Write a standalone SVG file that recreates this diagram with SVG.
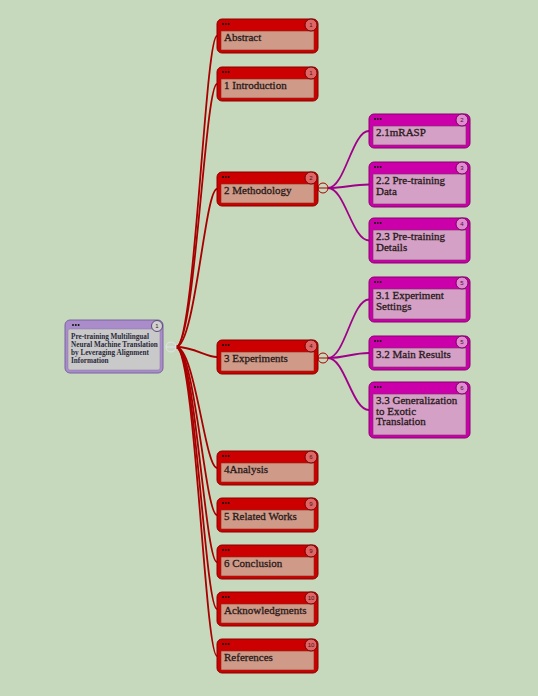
<svg xmlns="http://www.w3.org/2000/svg" width="538" height="696" viewBox="0 0 538 696">
<style>
.bg{fill:#c6d9bd}
.ro{fill:#cc0000;stroke:#8a0000;stroke-width:1}
.ri{fill:#d09a88;stroke:#8a2a1a;stroke-width:0.6}
.rb{fill:#e06666;stroke:#6a0000;stroke-width:0.9}
.po{fill:#cc00aa;stroke:#8a0070;stroke-width:1}
.pi{fill:#d4a0c6;stroke:#7a2a66;stroke-width:0.6}
.pb{fill:#e28ad2;stroke:#6a0058;stroke-width:0.9}
.qo{fill:#a98cc9;stroke:#7a64a0;stroke-width:1}
.qi{fill:#c9c9c9;stroke:#8a7aa0;stroke-width:0.5}
.qb{fill:#d0d0d0;stroke:#5a4a78;stroke-width:1}
.t{font-family:"Liberation Serif","DejaVu Serif",serif;font-size:11px;fill:#2a1a1a;stroke:#2a1a1a;stroke-width:0.3}
.ts{font-family:"Liberation Serif","DejaVu Serif",serif;font-size:7.2px;font-weight:bold;fill:#2a2a3a}
.n{font-family:"Liberation Sans",sans-serif;font-size:6px;fill:#3a1a1a;text-anchor:middle}
.cr{fill:none;stroke:#a80000;stroke-width:1.8}
.cp{fill:none;stroke:#a0008a;stroke-width:1.8}
.col{fill:none;stroke-width:1}
</style>
<defs>
<g id="dots"><circle cx="0" cy="0" r="1" fill="#111"/><circle cx="2.8" cy="0" r="1" fill="#111"/><circle cx="5.6" cy="0" r="1" fill="#111"/></g>
</defs>
<rect class="bg" x="0" y="0" width="538" height="696"/>
<g id="connectors">
<path class="cr" d="M176,347 C195,347 205,36 217,36"/>
<path class="cr" d="M176,347 C195,347 205,84 217,84"/>
<path class="cr" d="M176,347 C195,347 205,189 217,189"/>
<path class="cr" d="M176,347 C195,347 205,357 217,357"/>
<path class="cr" d="M176,347 C195,347 205,468 217,468"/>
<path class="cr" d="M176,347 C195,347 205,515 217,515"/>
<path class="cr" d="M176,347 C195,347 205,562 217,562"/>
<path class="cr" d="M176,347 C195,347 205,609 217,609"/>
<path class="cr" d="M176,347 C195,347 205,656 217,656"/>
<path class="cp" d="M328,188 C345,188 352,131 369,131"/>
<path class="cp" d="M328,188 C345,188 352,184.5 369,184.5"/>
<path class="cp" d="M328,188 C345,188 352,240.5 369,240.5"/>
<path class="cp" d="M328,358 C345,358 352,299.5 369,299.5"/>
<path class="cp" d="M328,358 C345,358 352,353 369,353"/>
<path class="cp" d="M328,358 C345,358 352,410 369,410"/>
</g>
<g id="root">
<rect class="qo" x="65" y="320" width="98" height="53" rx="5"/>
<rect class="qi" x="68" y="329" width="92" height="41" rx="2"/>
<use href="#dots" x="73" y="325"/>
<circle class="qb" cx="157" cy="326" r="5.5"/><text class="n" x="157" y="328.2">1</text>
<text class="ts" x="71" y="339">Pre-training Multilingual</text>
<text class="ts" x="71" y="347">Neural Machine Translation</text>
<text class="ts" x="71" y="355">by Leveraging Alignment</text>
<text class="ts" x="71" y="363">Information</text>
<circle class="col" cx="171" cy="347" r="5" stroke="#e6e0ee"/><line x1="166" y1="347" x2="176" y2="347" stroke="#e6e0ee" stroke-width="1"/>
</g>
<g id="abstract">
<rect class="ro" x="217" y="19" width="101" height="34" rx="5"/>
<rect class="ri" x="221" y="31" width="93" height="19"/>
<use href="#dots" x="223" y="24"/>
<circle class="rb" cx="311" cy="25" r="6"/><text class="n" x="311" y="27.2">1</text>
<text class="t" x="224" y="41">Abstract</text>
</g>
<g id="introduction">
<rect class="ro" x="217" y="67" width="101" height="34" rx="5"/>
<rect class="ri" x="221" y="79" width="93" height="19"/>
<use href="#dots" x="223" y="72"/>
<circle class="rb" cx="311" cy="73" r="6"/><text class="n" x="311" y="75.2">1</text>
<text class="t" x="224" y="89">1 Introduction</text>
</g>
<g id="methodology">
<rect class="ro" x="217" y="172" width="101" height="34" rx="5"/>
<rect class="ri" x="221" y="184" width="93" height="19"/>
<use href="#dots" x="223" y="177"/>
<circle class="rb" cx="311" cy="178" r="6"/><text class="n" x="311" y="180.2">2</text>
<text class="t" x="224" y="194">2 Methodology</text>
<circle class="col" cx="323" cy="188" r="5" stroke="#a80000"/><line x1="318" y1="188" x2="328" y2="188" stroke="#a80000" stroke-width="1"/>
</g>
<g id="experiments">
<rect class="ro" x="217" y="340" width="101" height="34" rx="5"/>
<rect class="ri" x="221" y="352" width="93" height="19"/>
<use href="#dots" x="223" y="345"/>
<circle class="rb" cx="311" cy="346" r="6"/><text class="n" x="311" y="348.2">4</text>
<text class="t" x="224" y="362">3 Experiments</text>
<circle class="col" cx="323" cy="358" r="5" stroke="#a80000"/><line x1="318" y1="358" x2="328" y2="358" stroke="#a80000" stroke-width="1"/>
</g>
<g id="analysis">
<rect class="ro" x="217" y="451" width="101" height="34" rx="5"/>
<rect class="ri" x="221" y="463" width="93" height="19"/>
<use href="#dots" x="223" y="456"/>
<circle class="rb" cx="311" cy="457" r="6"/><text class="n" x="311" y="459.2">6</text>
<text class="t" x="224" y="473">4Analysis</text>
</g>
<g id="related-works">
<rect class="ro" x="217" y="498" width="101" height="34" rx="5"/>
<rect class="ri" x="221" y="510" width="93" height="19"/>
<use href="#dots" x="223" y="503"/>
<circle class="rb" cx="311" cy="504" r="6"/><text class="n" x="311" y="506.2">9</text>
<text class="t" x="224" y="520">5 Related Works</text>
</g>
<g id="conclusion">
<rect class="ro" x="217" y="545" width="101" height="34" rx="5"/>
<rect class="ri" x="221" y="557" width="93" height="19"/>
<use href="#dots" x="223" y="550"/>
<circle class="rb" cx="311" cy="551" r="6"/><text class="n" x="311" y="553.2">9</text>
<text class="t" x="224" y="567">6 Conclusion</text>
</g>
<g id="acknowledgments">
<rect class="ro" x="217" y="592" width="101" height="34" rx="5"/>
<rect class="ri" x="221" y="604" width="93" height="19"/>
<use href="#dots" x="223" y="597"/>
<circle class="rb" cx="311" cy="598" r="6"/><text class="n" x="311" y="600.2">10</text>
<text class="t" x="224" y="614">Acknowledgments</text>
</g>
<g id="references">
<rect class="ro" x="217" y="639" width="101" height="34" rx="5"/>
<rect class="ri" x="221" y="651" width="93" height="19"/>
<use href="#dots" x="223" y="644"/>
<circle class="rb" cx="311" cy="645" r="6"/><text class="n" x="311" y="647.2">10</text>
<text class="t" x="224" y="661">References</text>
</g>
<g id="s2-1">
<rect class="po" x="369" y="114" width="101" height="34" rx="5"/>
<rect class="pi" x="373" y="126" width="93" height="19"/>
<use href="#dots" x="375" y="119"/>
<circle class="pb" cx="462" cy="120" r="6"/><text class="n" x="462" y="122.2">2</text>
<text class="t" x="376" y="136">2.1mRASP</text>
</g>
<g id="s2-2">
<rect class="po" x="369" y="162" width="101" height="45" rx="5"/>
<rect class="pi" x="373" y="174" width="93" height="30"/>
<use href="#dots" x="375" y="167"/>
<circle class="pb" cx="462" cy="168" r="6"/><text class="n" x="462" y="170.2">3</text>
<text class="t" x="376" y="184">2.2 Pre-training</text>
<text class="t" x="376" y="194.5">Data</text>
</g>
<g id="s2-3">
<rect class="po" x="369" y="218" width="101" height="45" rx="5"/>
<rect class="pi" x="373" y="230" width="93" height="30"/>
<use href="#dots" x="375" y="223"/>
<circle class="pb" cx="462" cy="224" r="6"/><text class="n" x="462" y="226.2">4</text>
<text class="t" x="376" y="240">2.3 Pre-training</text>
<text class="t" x="376" y="250.5">Details</text>
</g>
<g id="s3-1">
<rect class="po" x="369" y="277" width="101" height="45" rx="5"/>
<rect class="pi" x="373" y="289" width="93" height="30"/>
<use href="#dots" x="375" y="282"/>
<circle class="pb" cx="462" cy="283" r="6"/><text class="n" x="462" y="285.2">5</text>
<text class="t" x="376" y="299">3.1 Experiment</text>
<text class="t" x="376" y="309.5">Settings</text>
</g>
<g id="s3-2">
<rect class="po" x="369" y="336" width="101" height="34" rx="5"/>
<rect class="pi" x="373" y="348" width="93" height="19"/>
<use href="#dots" x="375" y="341"/>
<circle class="pb" cx="462" cy="342" r="6"/><text class="n" x="462" y="344.2">5</text>
<text class="t" x="376" y="358">3.2 Main Results</text>
</g>
<g id="s3-3">
<rect class="po" x="369" y="382" width="101" height="56" rx="5"/>
<rect class="pi" x="373" y="394" width="93" height="41"/>
<use href="#dots" x="375" y="387"/>
<circle class="pb" cx="462" cy="388" r="6"/><text class="n" x="462" y="390.2">6</text>
<text class="t" x="376" y="404">3.3 Generalization</text>
<text class="t" x="376" y="414.5">to Exotic</text>
<text class="t" x="376" y="425">Translation</text>
</g>
</svg>
